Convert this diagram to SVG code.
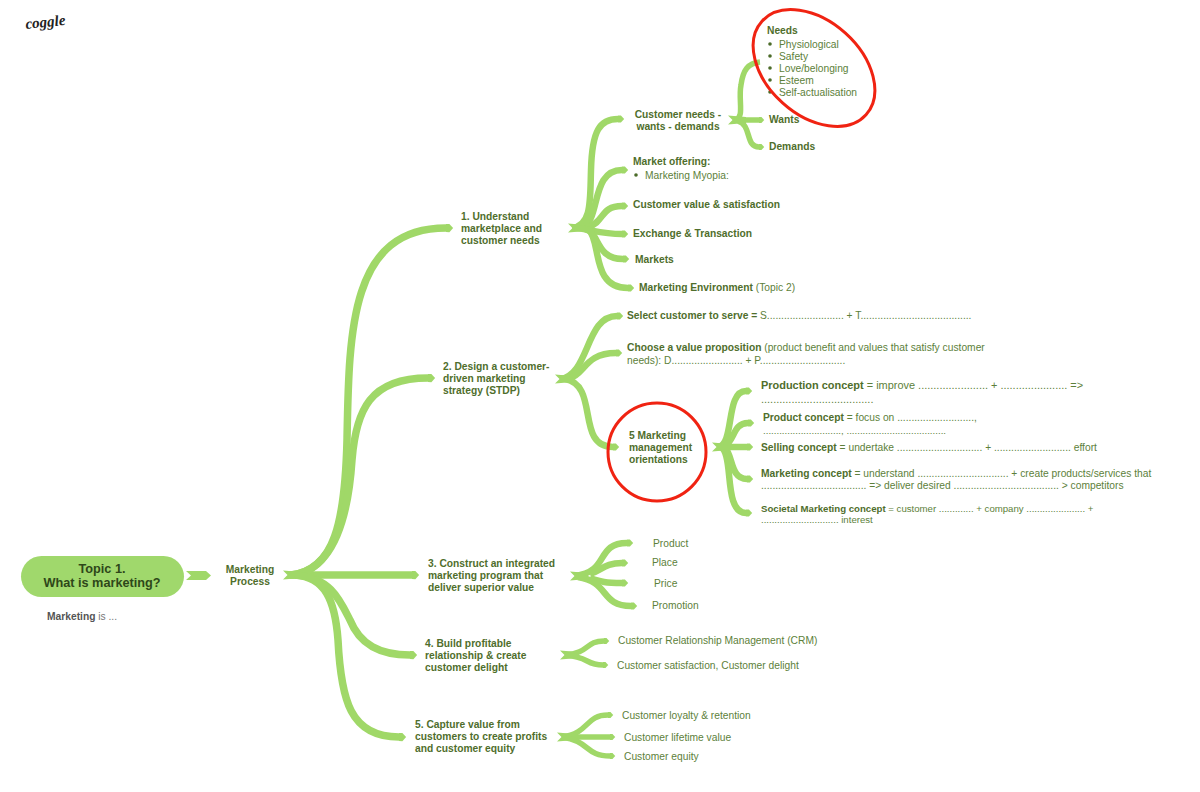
<svg xmlns="http://www.w3.org/2000/svg" xmlns:xlink="http://www.w3.org/1999/xlink" width="1200" height="792" viewBox="0 0 1200 792">
<style>
text{font-family:"Liberation Sans",Arial,sans-serif;font-size:10.250px;fill:#5d7f3a}
.b,.b tspan{font-weight:700;fill:#4f6e2c}
.l{fill:none;stroke:#a0d868;stroke-width:6.500;marker-end:url(#tip)}
.w{stroke-width:7.500}
.s{stroke-width:5.500}
.ring{fill:none;stroke:#f02312;stroke-width:3}
.dot{fill:#4b6b28}
</style>
<defs>
<marker id="tip" markerUnits="strokeWidth" markerWidth="2" markerHeight="2" viewBox="0 -1 2 2" refX="0" refY="0" orient="auto"><polygon points="-0.05,-0.52 0.45,-0.55 0.95,0 0.45,0.55 -0.05,0.52" fill="#a0d868"/></marker>
<polygon id="root" points="-2,-4.500 16,-3 16,3 -2,4.500 2.500,0" fill="#a0d868"/>
</defs>
<rect width="1200" height="792" fill="#fff"/>
<g id="connectors">
<polygon points="186,571 206,571 211,575.500 206,580 186,580 191,575.500" fill="#a0d868"/>
<use xlink:href="#root" href="#root" x="285" y="575"/>
<path class="l w" d="M290,575C335,572 345,520 347,440C349,330 350,228 446,228"/>
<path class="l w" d="M292,575C332,570 348,520 352,460C356,410 370,378 428,378"/>
<path class="l w" d="M290,575L412,575"/>
<path class="l w" d="M295,575C330,577 340,600 350,620C360,645 380,655 410,655"/>
<path class="l w" d="M295,575C325,577 335,600 338,640C341,700 350,737 399,737"/>
<use xlink:href="#root" href="#root" x="570" y="228"/>
<path class="l" d="M572,228C592,226 590,200 591,170C592,130 600,119 618,119"/>
<path class="l" d="M585,226C600,215 592,170 622,170"/>
<path class="l" d="M588,227C605,222 600,206 622,206"/>
<path class="l" d="M575,228C590,229 600,234 622,234"/>
<path class="l" d="M585,229C600,232 595,259 623,259"/>
<path class="l" d="M588,229C602,240 590,288 628,288"/>
<use xlink:href="#root" href="#root" x="730" y="120"/>
<path class="l s" style="marker-end:none" d="M735,120C745,118 738,100 741,85C743,70 748,63 760,62"/>
<path class="l s" d="M735,120L759,120"/>
<path class="l s" d="M738,121C752,125 745,147 759,147"/>
<use xlink:href="#root" href="#root" x="557" y="379"/>
<path class="l" d="M560,379C590,375 585,316 617,316"/>
<path class="l" d="M570,378C585,374 585,353 616,353"/>
<path class="l" d="M565,379C600,385 575,447 613,447"/>
<use xlink:href="#root" href="#root" x="714" y="447"/>
<path class="l" d="M718,447C735,445 725,391 746,391"/>
<path class="l" d="M725,446C735,440 733,423 748,423"/>
<path class="l" d="M718,447L747,447"/>
<path class="l" d="M725,448C733,455 730,479 747,479"/>
<path class="l" d="M720,447C735,450 722,513 746,513"/>
<use xlink:href="#root" href="#root" x="572" y="576"/>
<path class="l" d="M575,576C610,572 595,543 627,543"/>
<path class="l" d="M590,574C602,570 605,563 622,563"/>
<path class="l" d="M590,578C602,582 605,583 622,583"/>
<path class="l" d="M578,577C610,582 600,606 631,606"/>
<use xlink:href="#root" href="#root" x="562" y="655"/>
<path class="l s" d="M565,655C590,653 585,641 604,641"/>
<path class="l s" d="M565,655C590,657 585,665 603,665"/>
<use xlink:href="#root" href="#root" x="559" y="737"/>
<path class="l s" d="M562,737C590,733 585,715 608,715"/>
<path class="l s" d="M562,737L610,737"/>
<path class="l s" d="M562,737C590,741 585,756 610,756"/>
</g>
<g id="logo"><text x="26" y="29" style="font-family:'Liberation Serif',serif;font-style:italic;font-weight:700;font-size:15px;fill:#222" transform="rotate(-6 26 29)">coggle</text></g>
<g id="topic"><rect x="21" y="556" width="163" height="41" rx="20.500" fill="#a0d86c"/><text text-anchor="middle" style="font-size:12.700px;font-weight:700;fill:#2e4719"><tspan x="102" y="573">Topic 1.</tspan><tspan x="102" y="587">What is marketing?</tspan></text></g>
<g id="note"><text x="47" y="620" style="fill:#777"><tspan style="font-weight:700;fill:#555">Marketing</tspan> is ...</text></g>
<g id="process"><text class="b" text-anchor="middle"><tspan x="250" y="573">Marketing</tspan><tspan x="250" y="585">Process</tspan></text></g>
<g id="n1"><text class="b"><tspan x="461" y="220">1. Understand</tspan><tspan x="461" y="232">marketplace and</tspan><tspan x="461" y="244">customer needs</tspan></text></g>
<g id="n2"><text class="b"><tspan x="443" y="370">2. Design a customer-</tspan><tspan x="443" y="382">driven marketing</tspan><tspan x="443" y="394">strategy (STDP)</tspan></text></g>
<g id="n3"><text class="b"><tspan x="428" y="567">3. Construct an integrated</tspan><tspan x="428" y="579">marketing program that</tspan><tspan x="428" y="591">deliver superior value</tspan></text></g>
<g id="n4"><text class="b"><tspan x="425" y="647">4. Build profitable</tspan><tspan x="425" y="659">relationship &amp; create</tspan><tspan x="425" y="671">customer delight</tspan></text></g>
<g id="n5"><text class="b"><tspan x="415" y="728">5. Capture value from</tspan><tspan x="415" y="740">customers to create profits</tspan><tspan x="415" y="752">and customer equity</tspan></text></g>
<g id="cnwd"><text class="b" text-anchor="middle"><tspan x="678" y="118">Customer needs -</tspan><tspan x="678" y="130">wants - demands</tspan></text></g>
<g id="needs"><text class="b" x="767" y="34">Needs</text><circle class="dot" cx="770" cy="44" r="1.800"/><circle class="dot" cx="770" cy="56" r="1.800"/><circle class="dot" cx="770" cy="68" r="1.800"/><circle class="dot" cx="770" cy="80" r="1.800"/><circle class="dot" cx="770" cy="92" r="1.800"/><text><tspan x="779" y="48">Physiological</tspan><tspan x="779" y="60">Safety</tspan><tspan x="779" y="72">Love/belonging</tspan><tspan x="779" y="84">Esteem</tspan><tspan x="779" y="96">Self-actualisation</tspan></text></g>
<g id="wants"><text class="b" x="769" y="123">Wants</text></g>
<g id="demands"><text class="b" x="769" y="150">Demands</text></g>
<g id="offering"><text class="b" x="633" y="165">Market offering:</text><circle class="dot" cx="636" cy="175" r="1.800"/><text x="645" y="179">Marketing Myopia:</text></g>
<g id="value"><text class="b" x="633" y="208">Customer value &amp; satisfaction</text></g>
<g id="exchange"><text class="b" x="633" y="237">Exchange &amp; Transaction</text></g>
<g id="markets"><text class="b" x="635" y="263">Markets</text></g>
<g id="environment"><text x="639" y="291"><tspan class="b">Marketing Environment</tspan> (Topic 2)</text></g>
<g id="select"><text x="627" y="319"><tspan class="b">Select customer to serve =</tspan> S........................... + T.......................................</text></g>
<g id="choose"><text><tspan x="627" y="351" class="b">Choose a value proposition</tspan><tspan> (product benefit and values that satisfy customer</tspan><tspan x="627" y="364">needs): D......................... + P..............................</tspan></text></g>
<g id="orient"><text class="b"><tspan x="629" y="439">5 Marketing</tspan><tspan x="629" y="451">management</tspan><tspan x="629" y="463">orientations</tspan></text></g>
<g id="production"><text style="font-size:10.950px"><tspan x="761" y="389" class="b">Production concept</tspan><tspan> = improve ....................... + ...................... =&gt;</tspan><tspan x="761" y="403">.....................................</tspan></text></g>
<g id="product"><text><tspan x="763" y="421" class="b">Product concept</tspan><tspan> = focus on ...........................,</tspan><tspan x="763" y="434" style="font-size:9.700px">............................., .....................................</tspan></text></g>
<g id="selling"><text x="761" y="451"><tspan class="b">Selling concept</tspan> = undertake .............................. + ........................... effort</text></g>
<g id="mconcept"><text><tspan x="761" y="477" class="b">Marketing concept</tspan><tspan> = understand ................................ + create products/services that</tspan><tspan x="761" y="489">..................................... =&gt; deliver desired ..................................... &gt; competitors</tspan></text></g>
<g id="societal"><text style="font-size:9.650px"><tspan x="761" y="512" class="b">Societal Marketing concept</tspan><tspan> = customer ............. + company ...................... +</tspan><tspan x="761" y="523">............................. interest</tspan></text></g>
<g id="p1"><text x="653" y="547">Product</text></g>
<g id="p2"><text x="652" y="566">Place</text></g>
<g id="p3"><text x="654" y="587">Price</text></g>
<g id="p4"><text x="652" y="609">Promotion</text></g>
<g id="c1"><text x="618" y="644">Customer Relationship Management (CRM)</text></g>
<g id="c2"><text x="617" y="669">Customer satisfaction, Customer delight</text></g>
<g id="e1"><text x="622" y="719">Customer loyalty &amp; retention</text></g>
<g id="e2"><text x="624" y="741">Customer lifetime value</text></g>
<g id="e3"><text x="624" y="760">Customer equity</text></g>
<g id="rings"><ellipse class="ring" cx="814" cy="68" rx="70" ry="47" transform="rotate(42 814 68)"/><circle class="ring" cx="657" cy="452" r="49"/></g>
</svg>
